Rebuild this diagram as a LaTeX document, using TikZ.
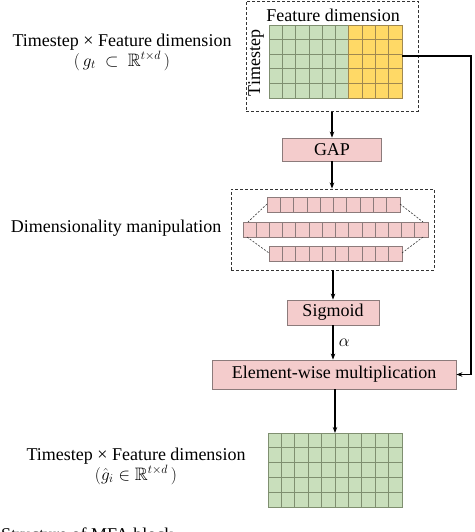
\documentclass[tikz,border=0pt]{standalone}
\usepackage{fontspec}
\setmainfont{Liberation Serif}
\usepackage{amssymb}
\usetikzlibrary{arrows.meta}
\definecolor{cgreen}{HTML}{C9DFBC}
\definecolor{cgreenl}{HTML}{7F8F70}
\definecolor{cyellow}{HTML}{FFD966}
\definecolor{cyellowl}{HTML}{A08850}
\definecolor{cpink}{HTML}{F4CCCC}
\definecolor{cpinkl}{HTML}{8C7B7B}
\begin{document}
\begin{tikzpicture}[x=1pt,y=-1pt,
  font=\fontsize{18}{20}\selectfont,
  procbox/.style={draw=cpinkl, fill=cpink, line width=0.8pt, inner sep=0pt},
  dashbox/.style={draw=black!80, dash pattern=on 3pt off 2pt, line width=0.9pt, inner sep=0pt},
  thindash/.style={draw=black!80, dash pattern=on 2pt off 1.5pt, line width=0.6pt},
  arr/.style={-{Stealth[length=6pt,width=4.5pt]}, line width=1.1pt},
  gcell/.style={fill=cgreen, draw=cgreenl, line width=0.7pt},
  ycell/.style={fill=cyellow, draw=cyellowl, line width=0.7pt},
  pcell/.style={fill=cpink, draw=cpinkl, line width=0.7pt},
  anchorbox/.style={inner sep=0pt, outer sep=0pt}
]
\useasboundingbox (0,0) rectangle (474,532);

% ---------- input block ----------
\node[dashbox, minimum width=172pt, minimum height=110pt, anchor=north west] (inp) at (246,1) {};
\foreach \i in {0,...,5} \foreach \j in {0,...,4}
  \draw[gcell] ({269+\i*13.3},{25+\j*14.6}) rectangle +(13.3,14.6);
\foreach \i in {6,...,9} \foreach \j in {0,...,4}
  \draw[ycell] ({269+\i*13.3},{25+\j*14.6}) rectangle +(13.3,14.6);
\node[anchorbox, minimum width=133pt, minimum height=73pt] (ingrid) at (335.5,61.5) {};
\node (fd) at (333,15) {Feature dimension};
\node[rotate=90] (ts) at (256,63) {Timestep};
\node[align=center] (t1) at (122,52) {Timestep × Feature dimension\\$(\,g_{t}\ \subset\ \mathbb{R}^{t\times d}\,)$};

% ---------- GAP ----------
\node[procbox, minimum width=99pt, minimum height=23pt] (gap) at (332,149.5) {GAP};

% ---------- dimensionality manipulation ----------
\node[dashbox, minimum width=203pt, minimum height=81pt] (dimb) at (332.5,229.5) {};
\foreach \i in {0,...,9}
  \draw[pcell] ({267+\i*13.3},197) rectangle +(13.3,15);
\foreach \i in {0,...,13}
  \draw[pcell] ({243+\i*13.21},222) rectangle +(13.21,15);
\foreach \i in {0,...,9}
  \draw[pcell] ({269+\i*13.3},246) rectangle +(13.3,15);
\coordinate (tl1) at (267,204); \coordinate (tl2) at (248,222);
\coordinate (tr1) at (400,204); \coordinate (tr2) at (423,222);
\coordinate (bl1) at (247,237); \coordinate (bl2) at (269,253);
\coordinate (br1) at (423,237); \coordinate (br2) at (402,253);
\draw[thindash] (tl1) -- (tl2);
\draw[thindash] (tr1) -- (tr2);
\draw[thindash] (bl1) -- (bl2);
\draw[thindash] (br1) -- (br2);
\node (dm) at (116,228) {Dimensionality manipulation};

% ---------- Sigmoid ----------
\node[procbox, minimum width=92pt, minimum height=25pt] (sig) at (333,312.5) {Sigmoid};

% ---------- Element-wise ----------
\node[procbox, minimum width=244pt, minimum height=29pt] (elem) at (334,374.5) {Element-wise multiplication};

% ---------- output ----------
\foreach \i in {0,...,9} \foreach \j in {0,...,4}
  \draw[gcell] ({268+\i*13.4},{433+\j*14.8}) rectangle +(13.4,14.8);
\node[anchorbox, minimum width=134pt, minimum height=74pt] (outgrid) at (335,470) {};
\node[align=center] (t2) at (136,466) {Timestep × Feature dimension\\$(\hat{g}_{i}\in\mathbb{R}^{t\times d}\,)$};

% ---------- arrows ----------
\draw[arr] (inp.south -| gap.north) -- (gap.north);
\draw[arr] (gap.south) -- (gap.south |- dimb.north);
\draw[arr] (dimb.south -| sig.north) -- (sig.north);
\draw[arr] (sig.south) -- node[right, xshift=2pt] {$\alpha$} (sig.south |- elem.north);
\draw[arr] (elem.south -| outgrid.north) -- (outgrid.north);
\coordinate (rt) at (471,56);
\draw[arr] ([yshift=5.5pt]ingrid.east) -- (rt) |- (elem.east);

% ---------- caption (cut by the frame) ----------
\node[anchor=base west, inner sep=0pt] (cap) at (1,540) {Structure of MFA block};
\end{tikzpicture}
\end{document}
